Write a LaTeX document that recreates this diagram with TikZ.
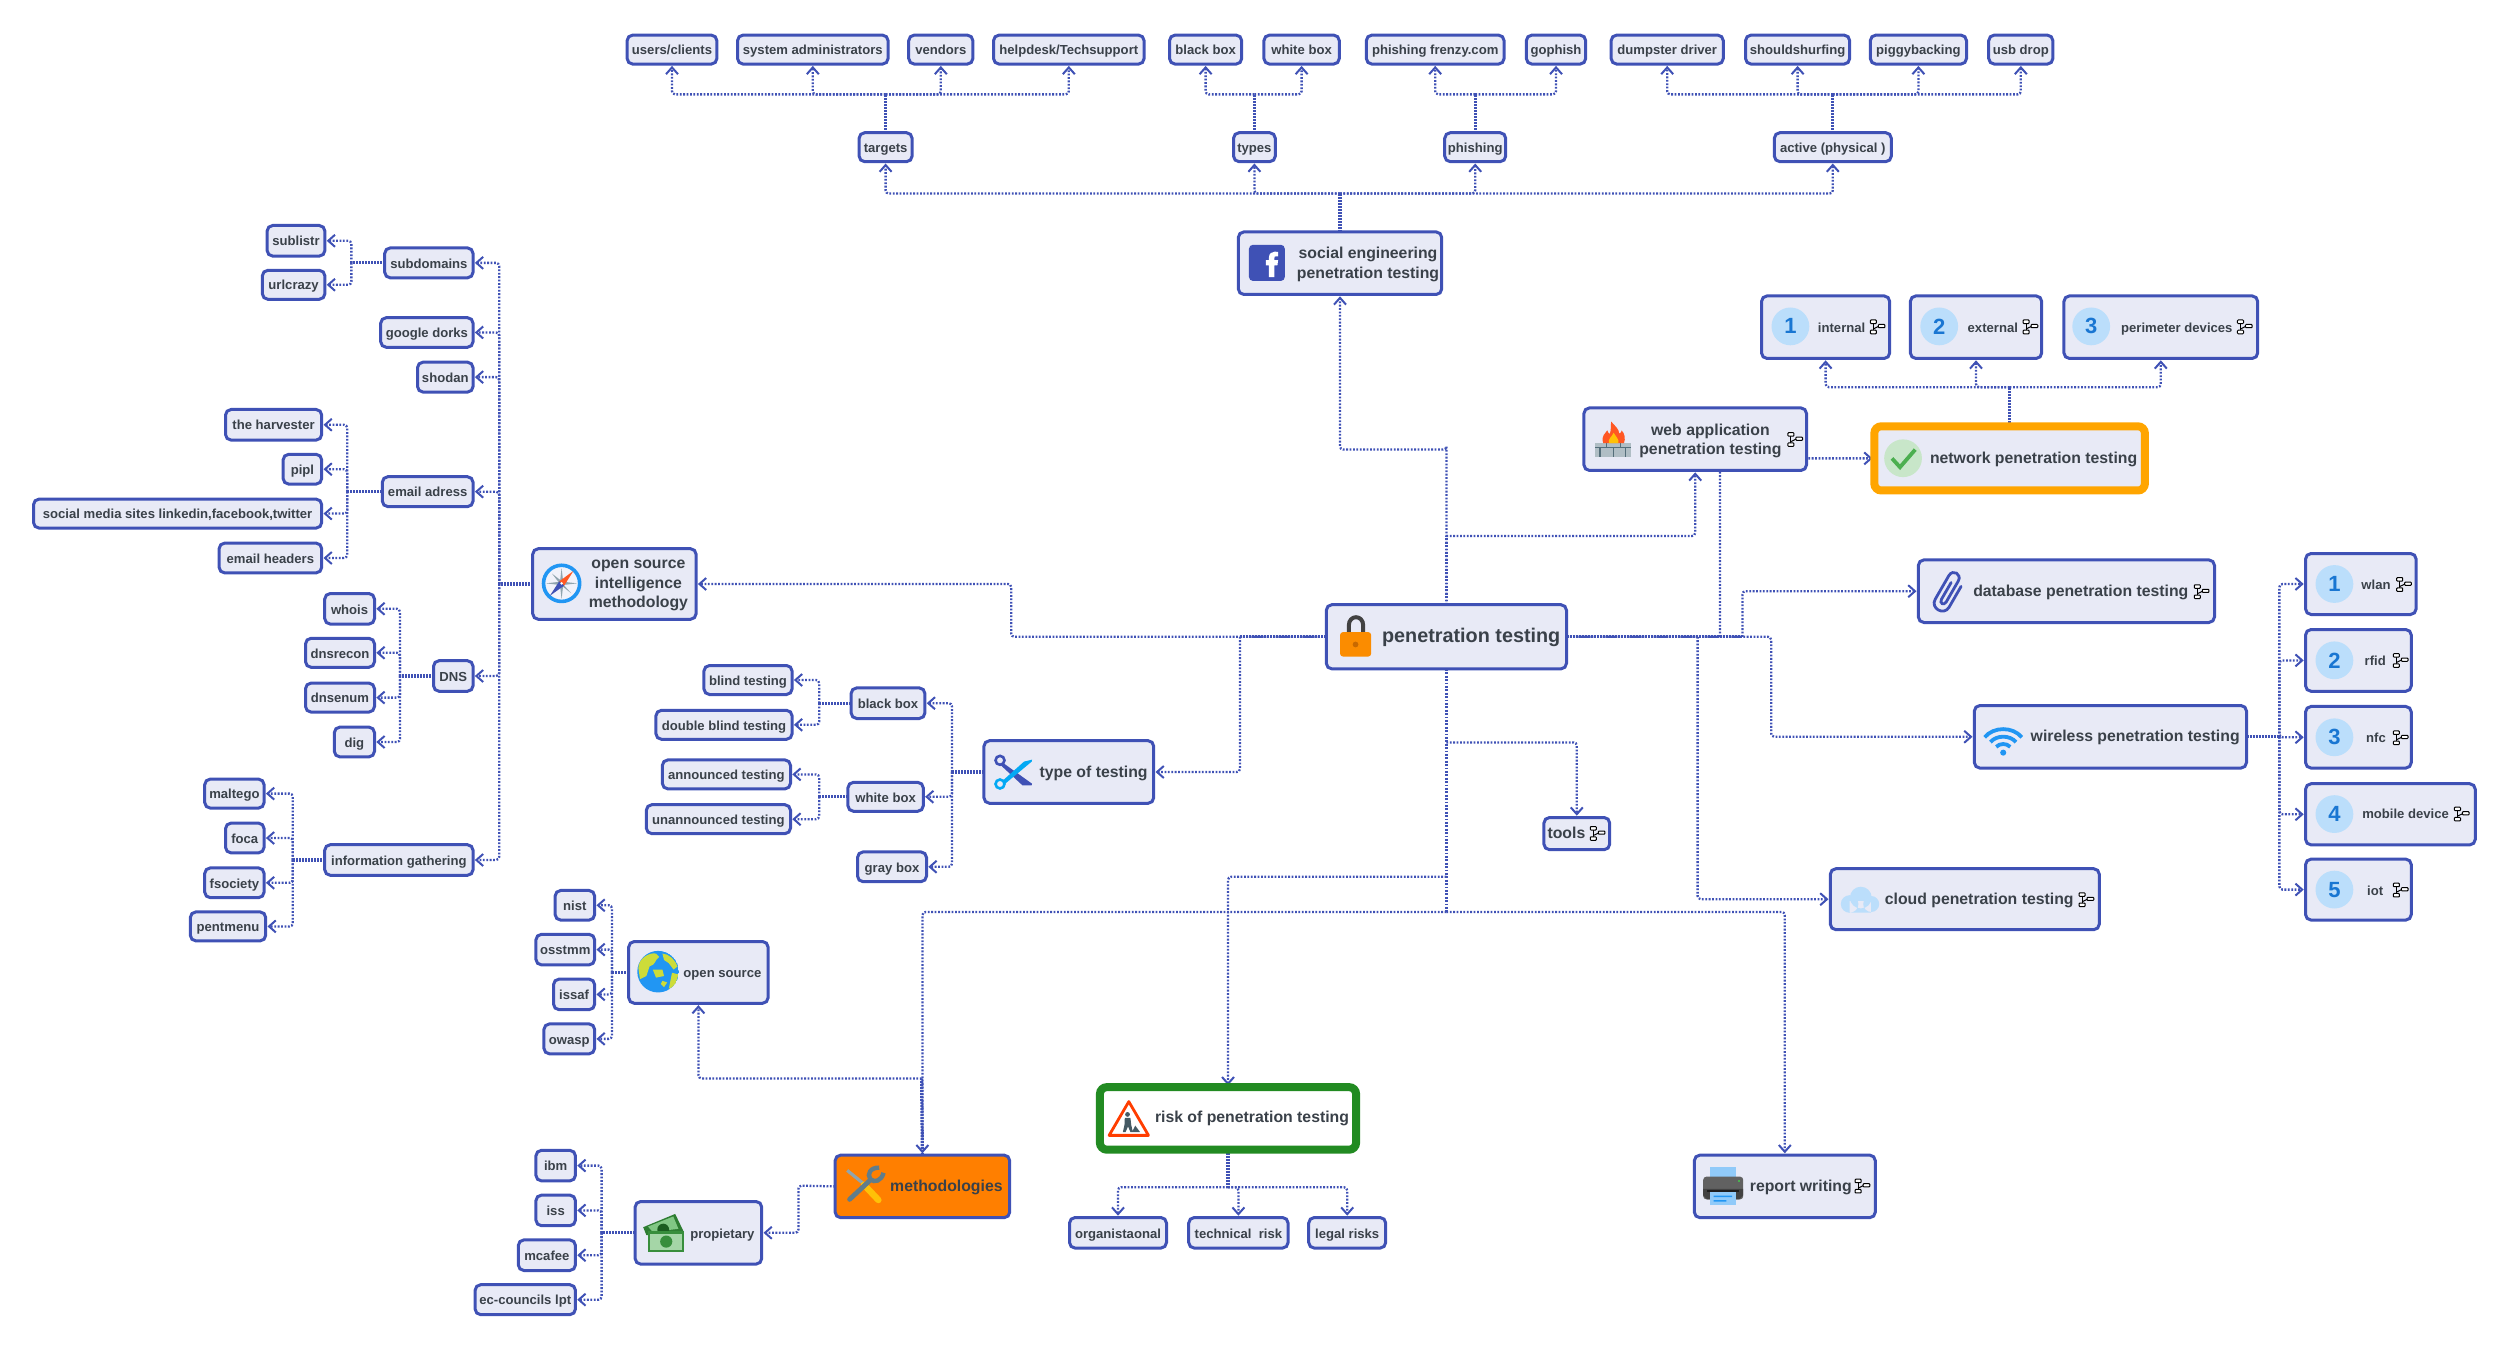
\documentclass[tikz,border=0pt]{standalone}
\usepackage{fontspec}
\setmainfont{Liberation Sans}
\usetikzlibrary{arrows.meta,calc}
\pgfdeclarelayer{bg}\pgfsetlayers{bg,main}
\definecolor{bl}{HTML}{3F51B5}
\definecolor{bxf}{HTML}{E8EAF6}
\definecolor{tc}{HTML}{3A4149}
\definecolor{cblue}{HTML}{BBDEFB}
\definecolor{nblue}{HTML}{1976D2}
\definecolor{sky}{HTML}{2196F3}
\definecolor{netor}{HTML}{FFA500}
\definecolor{riskg}{HTML}{228B22}
\definecolor{methor}{HTML}{FF7F00}
\tikzset{
 x=0.8pt,y=-0.8pt,
 box/.style={draw=bl,fill=bxf,line width=1.5pt,rounded corners=2.8pt,inner sep=0pt,outer sep=0pt,
   text=tc,font=\fsm\bfseries,align=center,text height=0.72em,text depth=0.2em},
 big/.style={font=\fbg\bfseries},
 txt/.style={inner sep=0pt,outer sep=0pt,text=tc,font=\fbg\bfseries,align=center},
 tsm/.style={txt,font=\fsm\bfseries,text height=0.72em,text depth=0.2em},
 tbg/.style={txt,font=\fbg\bfseries,text height=0.72em,text depth=0.2em},
 tip/.style={-{Straight Barb[length=3.4pt,width=6pt,line width=1pt]}},
 cn/.style={draw=bl,line width=1.15pt,dash pattern=on 0.9pt off 0.8pt,rounded corners=1.6pt,tip,shorten >=0.9pt},
 cnn/.style={draw=bl,line width=1.15pt,dash pattern=on 0.9pt off 0.8pt,rounded corners=1.6pt},
 stub/.style={draw=bl,line width=1.6pt,dash pattern=on 1pt off 0.5pt},
 num/.style={circle,fill=cblue,minimum size=18.9pt,inner sep=0pt,text=nblue,font=\fontsize{11}{12}\selectfont\bfseries},
}
\newcommand\fsm{\fontsize{6.55}{8}\selectfont}
\newcommand\fbg{\fontsize{7.9}{9.6}\selectfont}
\newcommand\bx[6][]{%
 \pgfmathsetmacro\mycx{(#3+#5)/2}\pgfmathsetmacro\mycy{(#4+#6)/2}%
 \pgfmathsetmacro\myw{(#5-#3)*0.8-1.5}\pgfmathsetmacro\myh{(#6-#4)*0.8-1.5}%
 \node[box,minimum width=\myw pt,minimum height=\myh pt,#1] (#2) at (\mycx,\mycy) {\BXT};}
\newcommand\BXT{}
\newcommand\bb[7][]{\renewcommand\BXT{#7}\bx[#1]{#2}{#3}{#4}{#5}{#6}}
% mind-map glyph
\newcommand\mmap[1]{\begin{scope}[shift={(#1)},line width=0.5pt,draw=black,fill=white]
 \draw (-2.7,-2) -- (-2.7,3); \draw (-2.7,1.6) -- (0.6,0);
 \filldraw[rounded corners=0.4pt] (-4.6,-4) rectangle (-0.8,-1.8);
 \filldraw[rounded corners=0.4pt] (-4.6,2.4) rectangle (-0.8,4.6);
 \filldraw[rounded corners=0.4pt] (0.4,-1.2) rectangle (4.6,0.8);
\end{scope}}
% tree connectors
\newcommand\ltree[3]{\coordinate (#1-b) at (#2,0 |- #1.west);
 \draw[stub] (#1.west) -- (#1-b);
 \foreach \k in {#3} {\draw[cn] (#1-b) |- (\k.east);}}
\newcommand\rtree[3]{\coordinate (#1-b) at (#2,0 |- #1.east);
 \draw[stub] (#1.east) -- (#1-b);
 \foreach \k in {#3} {\draw[cn] (#1-b) |- (\k.west);}}
\newcommand\utree[3]{\coordinate (#1-b) at (0,#2 -| #1.north);
 \draw[stub] (#1.north) -- (#1-b);
 \foreach \k in {#3} {\draw[cn] (#1-b) -| (\k.south);}}
\newcommand\dtree[3]{\coordinate (#1-b) at (0,#2 -| #1.south);
 \draw[stub] (#1.south) -- (#1-b);
 \foreach \k in {#3} {\draw[cn] (#1-b) -| (\k.north);}}
\begin{document}
\begin{tikzpicture}
\useasboundingbox (0,0) rectangle (1568.125,843.125);
% ---- top rows
\bb{uc}{391}{21}{449}{41}{users/clients}
\bb{sa}{460}{21}{556}{41}{system administrators}
\bb{ve}{567}{21}{609}{41}{vendors}
\bb{he}{620}{21}{716}{41}{helpdesk/Techsupport}
\bb{tb}{730}{21}{777}{41}{black box}
\bb{tw}{789}{21}{838}{41}{white box}
\bb{pf}{853}{21}{941}{41}{phishing frenzy.com}
\bb{go}{953}{21}{992}{41}{gophish}
\bb{du}{1006}{21}{1078}{41}{dumpster driver}
\bb{sh}{1090}{21}{1157}{41}{shouldshurfing}
\bb{pi}{1168}{21}{1230}{41}{piggybacking}
\bb{us}{1242}{21}{1284}{41}{usb drop}
\bb{ta}{536}{82}{571}{102}{targets}
\bb{ty}{770}{82}{798}{102}{types}
\bb{ph}{902}{82}{942}{102}{phishing}
\bb{ac}{1108}{82}{1183}{102}{active (physical )}
% ---- main nodes
\bb{soc}{773}{144}{902}{185}{}
\bb{inn}{1100}{184}{1182}{225}{}
\bb{ext}{1193}{184}{1277}{225}{}
\bb{per}{1289}{184}{1412}{225}{}
\bb{web}{989}{254}{1130}{295}{}
\bb[draw=netor,line width=4pt,rounded corners=3.5pt]{net}{1170.5}{265.5}{1341.5}{307.5}{}
\bb{db}{1198}{349}{1385}{390}{}
\bb{c}{828}{377}{980}{419}{}
\bb{wl}{1233}{440}{1405}{481}{}
\bb{w1}{1440}{345}{1511}{385}{}
\bb{w2}{1440}{392.5}{1508}{433}{}
\bb{w3}{1440}{440.6}{1508}{481}{}
\bb{w4}{1440}{488.9}{1548}{529}{}
\bb{w5}{1440}{536}{1508}{576}{}
\bb{cl}{1143}{542}{1313}{582}{}
\bb[big]{tools}{964}{510}{1007}{532}{}
\bb[fill=white,draw=riskg,line width=4pt,rounded corners=3.5pt]{risk}{686.5}{678.5}{848.5}{719.5}{}
\bb[fill=methor]{meth}{521}{721}{632}{762}{}
\bb{rep}{1058}{721}{1173}{762}{}
\bb{org}{667.5}{760}{730}{781}{organistaonal}
\bb{tec}{742}{760}{806}{781}{technical\ \ risk}
\bb{leg}{817}{760}{867}{781}{legal risks}
\bb{prop}{396}{750}{477}{791}{}
\bb{ibm}{334}{718}{360.6}{739}{ibm}
\bb{iss}{334}{746}{360.6}{767}{iss}
\bb{mca}{323}{774}{360.6}{795}{mcafee}
\bb{ecc}{296}{802}{360.6}{822.6}{ec-councils lpt}
\bb{os}{392}{587.5}{481}{628}{}
\bb{nist}{346}{555.6}{372.6}{576}{nist}
\bb{oss}{334}{583}{372.6}{604}{osstmm}
\bb{issaf}{345}{611}{372.6}{632}{issaf}
\bb{owa}{339}{639}{372.6}{659.6}{owasp}
\bb{typ}{614}{462}{722}{503}{}
\bb{bb}{531}{429}{579}{450}{black box}
\bb{wb}{529}{488}{578}{508}{white box}
\bb{gb}{535}{531.5}{580}{552}{gray box}
\bb{bt}{439}{415}{496}{435}{blind testing}
\bb{dbt}{409}{443}{496}{463}{double blind testing}
\bb{at}{413}{474}{495}{494}{announced testing}
\bb{ut}{403}{502}{495}{522}{unannounced testing}
\bb{osi}{332}{342}{436}{388}{}
\bb{sub}{239.5}{154}{296.6}{174.6}{subdomains}
\bb{gd}{237}{197.6}{296.6}{218}{google dorks}
\bb{sho}{260}{225.4}{296.6}{246}{shodan}
\bb{ema}{238}{297}{296.6}{317.6}{email adress}
\bb{dns}{270}{412}{296.6}{433}{DNS}
\bb{inf}{202}{527}{296.6}{548}{information gathering}
\bb{sl}{166}{140}{204}{161}{sublistr}
\bb{ur}{163}{168}{204}{188}{urlcrazy}
\bb{har}{140}{255}{202}{276}{the harvester}
\bb{pip}{176}{283}{202}{303.5}{pipl}
\bb{sm}{20}{311}{202}{331}{social media sites linkedin,facebook,twitter}
\bb{eh}{136}{338.5}{202}{359}{email headers}
\bb{who}{202}{370}{235}{391}{whois}
\bb{dr}{190}{398}{235}{418}{dnsrecon}
\bb{de}{190}{426}{235}{446}{dnsenum}
\bb{dig}{208}{453.5}{235}{474}{dig}
\bb{mal}{127}{486}{166}{506}{maltego}
\bb{foc}{140}{513.5}{166}{534}{foca}
\bb{fso}{127}{541.5}{166}{562}{fsociety}
\bb{pen}{118}{569}{167}{589}{pentmenu}
% ---- texts in the boxes with icons
\node[txt] (tsoc) at (855,165.3) {social engineering\\penetration testing};
\node[txt] (tweb) at (1069,275.5) {web application\\penetration testing};
\node[tbg] (tnet) at (1271,286.3) {network penetration testing};
\node[tbg] (tdb) at (1300.5,369.6) {database penetration testing};
\node[txt,font=\fontsize{9.9}{12}\selectfont\bfseries,text height=0.72em,text depth=0.2em] (tc) at (919.5,398.4) {penetration testing};
\node[tbg] (twl) at (1334.5,460.3) {wireless penetration testing};
\node[tbg] (tcl) at (1237,562) {cloud penetration testing};
\node[tbg] (ttool) at (979,520.5) {tools};
\node[tbg] (trep) at (1125.5,741.3) {report writing};
\node[tbg] (ttyp) at (683.5,482.5) {type of testing};
\node[tbg] (trisk) at (782.5,698.3) {risk of penetration testing};
\node[tbg] (tmeth) at (591.5,741.3) {methodologies};
\node[tsm] (tprop) at (451.5,771) {propietary};
\node[tsm] (tos) at (451.5,607.5) {open source};
\node[txt] (tosi) at (399,366) {open source\\intelligence\\methodology};
\node[tsm] (t1) at (1151,204.5) {internal};
\node[tsm] (t2) at (1245.5,204.5) {external};
\node[tsm] (t3) at (1360.5,204.5) {perimeter devices};
\node[num] (n1) at (1119,204) {1};
\node[num] (n2) at (1212,204) {2};
\node[num] (n3) at (1307,204) {3};
\node[tsm] (tw1) at (1485,365) {wlan};
\node[tsm] (tw2) at (1484.5,412.5) {rfid};
\node[tsm] (tw3) at (1485,460.8) {nfc};
\node[tsm] (tw4) at (1503.5,508.5) {mobile device};
\node[tsm] (tw5) at (1484.5,556.3) {iot};
\node[num] (m1) at (1459,365) {1};
\node[num] (m2) at (1459,412.7) {2};
\node[num] (m3) at (1459,460.8) {3};
\node[num] (m4) at (1459,508.8) {4};
\node[num] (m5) at (1459,556) {5};
\foreach \p/\q in {1173.5/204,1269/204,1403/204,1502.5/365,1500.4/412.5,1500.4/460.8,1538.6/508.5,1500.4/556,1122/274.4,1376/369.5,1304/562,1164/741,998.5/520.6}{\mmap{\p,\q}}
% ---- connectors
\begin{pgfonlayer}{bg}
\coordinate (cn1) at (904,281);
\coordinate (cn2) at (904,335);
\coordinate (cw1) at (632,398);
\coordinate (cw2) at (775,398);
\coordinate (ce1) at (1061,398);
\coordinate (ce2) at (1075,398);
\coordinate (ce3) at (1089,398);
\coordinate (ce4) at (1107,398);
\coordinate (cs1) at (904,464);
\coordinate (cs2) at (904,548);
\coordinate (cs3) at (904,570);
\coordinate (mb) at (576,674);
\coordinate (mw) at (499,741);
\draw[stub] (c.east) -- (ce3);
\draw[stub] (c.west) -- (cw2);
\draw[cn] (c.north) |- (cn1) -| (soc.south);
\draw[cnn] (c.north) -- (cn2);
\draw[cn] (cn2) -| (web.south);
\draw[cn] (c.west) -- (cw1) |- (osi.east);
\draw[cn] (cw2) |- (typ.east);
\draw[cn] (ce1) |- (cl.west);
\draw[cn] (ce2) |- (net.west);
\draw[cn] (ce3) |- (db.west);
\draw[cn] (c.east) -- (ce4) |- (wl.west);
\draw[cnn,line width=1.3pt] (c.south) -- (cs3);
\draw[cn] (cs1) -| (tools.north);
\draw[cn] (cs2) -| (risk.north);
\draw[cn] (cs3) -| (meth.north);
\draw[cn] (cs3) -| (rep.north);
\draw[stub] (meth.north) -- (mb);
\draw[cn] (mb) -| (os.south);
\draw[cn] (meth.west) -- (mw) |- (prop.east);
\utree{soc}{121}{ta,ty,ph,ac}
\utree{ta}{59}{uc,sa,ve,he}
\utree{ty}{59}{tb,tw}
\utree{ph}{59}{pf,go}
\utree{ac}{59}{du,sh,pi,us}
\utree{net}{242}{inn,ext,per}
\rtree{wl}{1424.6}{w1,w2,w3,w4,w5}
\ltree{osi}{312}{sub,gd,sho,ema,dns,inf}
\ltree{sub}{219.6}{sl,ur}
\ltree{ema}{217}{har,pip,sm,eh}
\ltree{dns}{250}{who,dr,de,dig}
\ltree{inf}{183}{mal,foc,fso,pen}
\ltree{typ}{595}{bb,wb,gb}
\ltree{bb}{512}{bt,dbt}
\ltree{wb}{512}{at,ut}
\ltree{os}{382.5}{nist,oss,issaf,owa}
\ltree{prop}{376}{ibm,iss,mca,ecc}
\dtree{risk}{742}{org,tec,leg}
\end{pgfonlayer}
% ---- icons
% facebook
\fill[bl,rounded corners=2pt] (780.6,153) rectangle (803,175.6);
\fill[white] (793.1,173.2) -- (793.1,165.8) -- (791.2,165.8) -- (791.2,162.6) -- (793.1,162.6) -- (793.1,160.9) .. controls (793.1,158.5) and (794.8,157.3) .. (796.6,157.3) -- (798.8,157.4) -- (798.8,160.2) -- (797.4,160.2) .. controls (796.6,160.2) and (796.5,160.6) .. (796.5,161.3) -- (796.5,162.6) -- (798.8,162.6) -- (798.4,165.8) -- (796.5,165.8) -- (796.5,173.2) -- cycle;
% lock
\draw[color={rgb,255:red,66;green,66;blue,66},line width=2pt] (843,396) -- (843,391) .. controls (843,384) and (852,384) .. (852,391) -- (852,396);
\fill[color={rgb,255:red,251;green,140;blue,0},rounded corners=1.6pt] (837.5,395) rectangle (857,410.4);
\fill[color={rgb,255:red,200;green,105;blue,0}] (847.2,402.8) circle[radius=1.8];
% firewall + flame
\fill[color={rgb,255:red,176;green,190;blue,197}] (997,276.7) rectangle (1019.6,285.4);
\draw[color={rgb,255:red,84;green,110;blue,122},line width=0.6pt] (997,279.6) -- (1019.6,279.6) (1004,276.7) -- (1004,279.6) (1013,276.7) -- (1013,279.6) (1000,279.6) -- (1000,285.4) (1008.5,279.6) -- (1008.5,285.4) (1016,279.6) -- (1016,285.4);
\fill[color={rgb,255:red,255;green,87;blue,34}] (1002,277) .. controls (1000.5,272) and (1003.5,271) .. (1004.5,269) .. controls (1005.5,271) and (1006,272) .. (1006.5,270) .. controls (1007,267) and (1006.5,265) .. (1007,263.5) .. controls (1009,266) and (1012,268) .. (1012,271) .. controls (1013,270.5) and (1013.5,270) .. (1013.5,269) .. controls (1015.5,271) and (1016,274) .. (1015,277) -- cycle;
\fill[color={rgb,255:red,255;green,193;blue,7}] (1005.5,277) .. controls (1005,274) and (1007.5,273) .. (1008.5,270.5) .. controls (1010,273) and (1012,274.5) .. (1011.5,277) -- cycle;
% check
\fill[color={rgb,255:red,200;green,230;blue,201}] (1189.4,286.4) circle[radius=11.8];
\draw[color={rgb,255:red,76;green,175;blue,80},line width=1.9pt] (1182.5,286.5) -- (1187.5,292) -- (1197,281);
% paper clip
\begin{scope}[shift={(1218,369)},rotate=60]
\draw[bl,line width=1.4pt,line cap=round] (5,-1.2) -- (-7,-1.2) .. controls (-10,-1.2) and (-10,2.2) .. (-7,2.2) -- (8,2.2) .. controls (13,2.2) and (13,-4.6) .. (8,-4.6) -- (-9,-4.6) .. controls (-15.5,-4.6) and (-15.5,5.4) .. (-9,5.4) -- (6,5.4);
\end{scope}
% wifi
\fill[sky] (1252,470.4) circle[radius=1.9];
\draw[sky,line width=1.9pt] (1240.4,460.8) .. controls (1246,454) and (1258,454) .. (1263.6,460.8);
\draw[sky,line width=1.9pt] (1244,463.8) .. controls (1248,459.3) and (1256,459.3) .. (1260,463.8);
\draw[sky,line width=1.9pt] (1247.6,466.8) .. controls (1250,464.4) and (1254,464.4) .. (1256.4,466.8);
% cloud
\fill[cblue] (1156,565) circle[radius=5.5] (1163,561) circle[radius=6.8] (1169.5,565) circle[radius=5] (1156,563) rectangle (1169.5,570.4);
% printer
\fill[color={rgb,255:red,144;green,202;blue,249}] (1068.8,729.5) rectangle (1085,737);
\fill[color={rgb,255:red,97;green,97;blue,97},rounded corners=1.6pt] (1064.5,735.4) rectangle (1089.5,749.6);
\fill[color={rgb,255:red,66;green,66;blue,66}] (1064.5,743) -- (1089.5,743) -- (1089.5,747) -- (1087,749.6) -- (1067,749.6) -- (1064.5,747) -- cycle;
\fill[color={rgb,255:red,30;green,30;blue,30}] (1067,744) rectangle (1087,745);
\fill[color={rgb,255:red,144;green,202;blue,249}] (1068.8,745) rectangle (1085,753);
\fill[sky] (1071,747.2) rectangle (1082.5,748.2) (1071,750) rectangle (1079,751);
\fill[color={rgb,255:red,76;green,175;blue,80}] (1086.5,737.5) rectangle (1087.5,738.5);
% compass
\draw[sky,line width=1.8pt,fill=bxf!60!white] (351,364.6) circle[radius=11.3];
\fill[color={rgb,255:red,144;green,164;blue,174}] (351,355) -- (352,363.6) -- (360.8,364.6) -- (352,365.6) -- (351,374.5) -- (350,365.6) -- (341.2,364.6) -- (350,363.6) -- cycle;
\fill[color={rgb,255:red,144;green,164;blue,174}] (345,358.5) -- (351.8,363.8) -- (357,358.5) -- (352,365.2) -- (357,370.8) -- (350.2,365.4) -- (345,370.8) -- (350,365) -- cycle;
\fill[color={rgb,255:red,255;green,87;blue,34}] (349.5,363.4) -- (358.4,356.8) -- (352.6,366) -- cycle;
\fill[bl] (349.5,363.4) -- (343.6,372.4) -- (352.6,366) -- cycle;
\fill[white] (351,364.6) circle[radius=0.9];
% scissors
\draw[bl,line width=1.3pt] (625,475.2) circle[radius=2.8];
\fill[bl] (626.6,476.6) -- (645,489.8) -- (644.8,490.8) -- (639,490.8) -- (625.6,478.4) -- cycle;
\draw[color={rgb,255:red,3;green,169;blue,244},line width=1.3pt] (625,490) circle[radius=2.8];
\fill[color={rgb,255:red,3;green,169;blue,244}] (626.8,487.8) -- (640,476) -- (645,474.8) -- (644.8,476) -- (628,490) -- cycle;
% globe
\begin{scope}
\clip (411.3,607.3) circle[radius=13];
\fill[sky] (411.3,607.3) circle[radius=13];
\fill[color={rgb,255:red,205;green,220;blue,57}] (399,605) .. controls (399,599) and (406,595) .. (410,596) -- (412,598) .. controls (409,600) and (410,603) .. (406,604) -- (404,610) -- (400,612) -- cycle;
\fill[color={rgb,255:red,205;green,220;blue,57}] (414,596) .. controls (418,596) and (422,600) .. (423.5,604) -- (421,606) -- (418,602) -- (415,600) -- cycle;
\fill[color={rgb,255:red,205;green,220;blue,57}] (408,606) -- (414,606) -- (415,610) -- (410,611) -- cycle;
\fill[color={rgb,255:red,205;green,220;blue,57}] (420,608) -- (424,609) -- (422,616) -- (418,618) -- (419,613) -- cycle;
\fill[color={rgb,255:red,205;green,220;blue,57}] (414,613) -- (417,614) -- (415,617) -- (413,615) -- cycle;
\end{scope}
% tools
\draw[color={rgb,255:red,144;green,164;blue,174},line width=1.6pt] (529.5,731.5) -- (540,740);
\draw[color={rgb,255:red,255;green,193;blue,7},line width=3.2pt,line cap=round] (540,740.5) -- (549,750);
\draw[color={rgb,255:red,96;green,125;blue,139},line width=2.4pt,line cap=round] (531,749.6) -- (544,737.5);
\draw[color={rgb,255:red,96;green,125;blue,139},line width=2.2pt] (549.5,729.8) .. controls (544,729.5) and (541.5,734) .. (544,737) .. controls (546.5,739.5) and (551,738) .. (552.2,733);
% warning sign
\draw[color={rgb,255:red,255;green,61;blue,0},line width=1.4pt,line join=round,fill=white] (705.5,688.5) -- (717.8,709.6) -- (693.2,709.6) -- cycle;
\fill[color={rgb,255:red,69;green,90;blue,100}] (704.7,696.5) circle[radius=1.5] (703,698.6) -- (706.5,698.6) -- (707,703) -- (708,707.5) -- (706.5,707.5) -- (705,704) -- (703.5,707.5) -- (701.8,707.5) -- (702.8,703) -- cycle (707.5,707.5) -- (709.5,703.5) -- (712.5,707.5) -- cycle;
% money
\fill[color={rgb,255:red,46;green,125;blue,50}] (402,767) -- (422,758.7) -- (427.3,769.8) -- (404,772) -- cycle;
\fill[color={rgb,255:red,129;green,199;blue,132}] (405,766.6) -- (420.8,760.3) -- (424,768) -- (408,770) -- cycle;
\fill[color={rgb,255:red,27;green,94;blue,32}] (414.5,768.5) circle[radius=3.7];
\fill[color={rgb,255:red,56;green,142;blue,60}] (405.2,769.5) rectangle (427.5,782.3);
\fill[color={rgb,255:red,165;green,214;blue,167}] (406.5,771) rectangle (426.2,781);
\fill[color={rgb,255:red,56;green,142;blue,60}] (416.4,776) circle[radius=3.8];
\end{tikzpicture}
\end{document}
